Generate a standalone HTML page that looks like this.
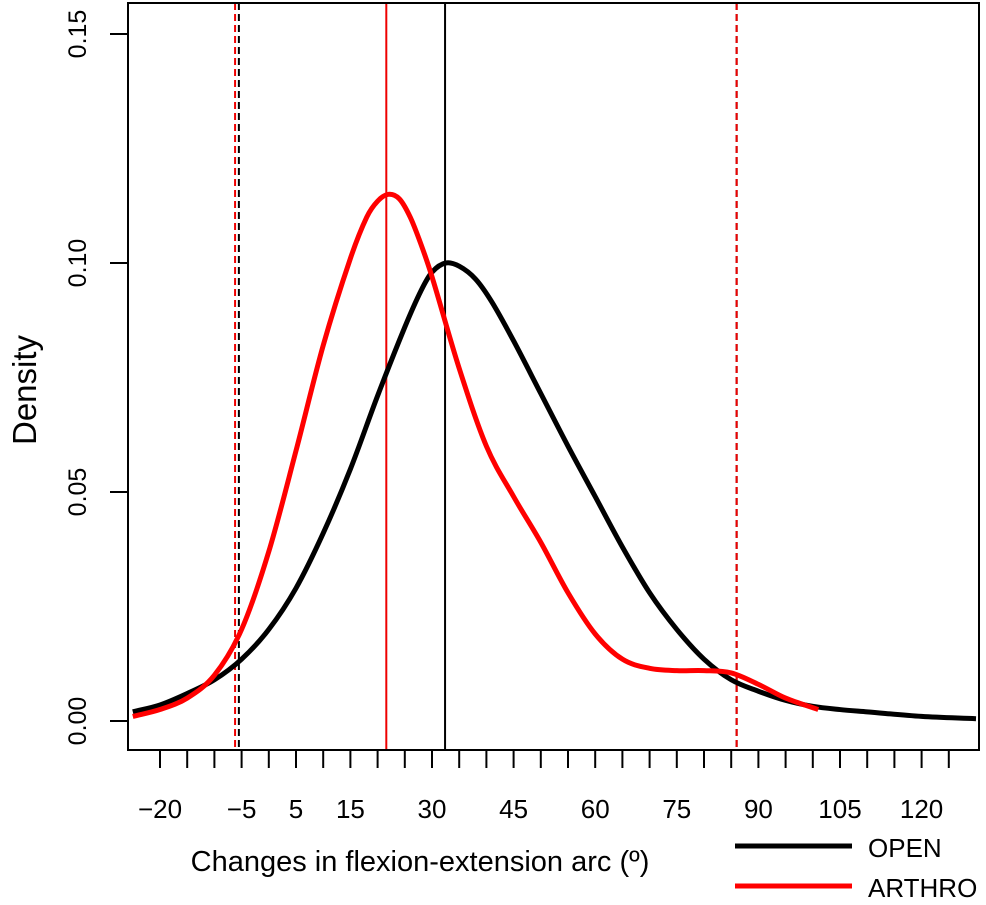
<!DOCTYPE html>
<html><head><meta charset="utf-8"><style>
body{margin:0;background:#fff;}
svg text{font-family:"Liberation Sans","Noto Sans CJK KR",sans-serif;}
</style></head><body>
<svg id="chart" width="986" height="900" xmlns="http://www.w3.org/2000/svg"></svg>
<script>
const xTicks=[-20,-15,-10,-5,0,5,10,15,20,25,30,35,40,45,50,55,60,65,70,75,80,85,90,95,100,105,110,115,120,125];
const xLabels=[-20,-5,5,15,30,45,60,75,90,105,120];
const yLabels=[0,0.05,0.10,0.15];
const openX=[-25,-20,-15,-10,-5,0,5,10,15,20,25,28,30,32.5,35,38,41,45,50,55,60,65,70,75,80,85,90,95,100,105,110,120,130];
const openY=[0.002,0.0035,0.006,0.009,0.0135,0.020,0.029,0.041,0.055,0.071,0.086,0.094,0.098,0.100,0.0993,0.0965,0.0915,0.083,0.0715,0.060,0.049,0.038,0.028,0.020,0.0135,0.009,0.0065,0.0045,0.0032,0.0025,0.002,0.001,0.0005];
const arthX=[-25,-20,-15,-10,-5,0,5,10,15,18,20,22,24,26,28,30,35,40,45,50,55,60,65,70,75,80,85,90,95,101];
const arthY=[0.001,0.0025,0.005,0.010,0.020,0.037,0.059,0.082,0.101,0.110,0.1135,0.115,0.114,0.110,0.104,0.097,0.077,0.060,0.049,0.039,0.028,0.019,0.0135,0.0115,0.011,0.011,0.0105,0.008,0.005,0.0025];
const openLines=[32.4,-5.5,86];
const arthLines=[21.6,-6.2,86];
const L=128,R=979,T=3,B=750;
const sx=v=>268.8+v*5.44;
const sy=v=>721-v*4580;
const svg=document.getElementById('chart');
const NS='http://www.w3.org/2000/svg';
function mk(tag,attrs,parent){const e=document.createElementNS(NS,tag);for(const k in attrs)e.setAttribute(k,attrs[k]);(parent||svg).appendChild(e);return e;}
function smooth(xs,ys){const p=xs.map((x,i)=>[sx(x),sy(ys[i])]);let d='M'+p[0][0]+','+p[0][1];
for(let i=0;i<p.length-1;i++){const p0=p[Math.max(0,i-1)],p1=p[i],p2=p[i+1],p3=p[Math.min(p.length-1,i+2)];
const h=p2[0]-p1[0];
const m1=(p2[1]-p0[1])/(p2[0]-p0[0]||1), m2=(p3[1]-p1[1])/(p3[0]-p1[0]||1);
d+=' C'+(p1[0]+h/3)+','+(p1[1]+m1*h/3)+' '+(p2[0]-h/3)+','+(p2[1]-m2*h/3)+' '+p2[0]+','+p2[1];}return d;}
const clip=mk('clipPath',{id:'pc'});mk('rect',{x:L,y:T,width:R-L,height:B-T},clip);
const g=mk('g',{'clip-path':'url(#pc)'});

let e;
e=mk('line',{x1:sx(openLines[0]),x2:sx(openLines[0]),y1:T,y2:B,stroke:'#000','stroke-width':2},g);

e=mk('line',{x1:sx(arthLines[0]),x2:sx(arthLines[0]),y1:T,y2:B,stroke:'#e00','stroke-width':2},g);

for(let i=1;i<3;i++){
e=mk('line',{x1:sx(openLines[i]),x2:sx(openLines[i]),y1:T,y2:B,stroke:'#000','stroke-width':2,'stroke-dasharray':'7,4'},g);

e=mk('line',{x1:sx(arthLines[i]),x2:sx(arthLines[i]),y1:T,y2:B,stroke:'#e00','stroke-width':2,'stroke-dasharray':'7,4'},g);
}
e=mk('path',{d:smooth(openX,openY),fill:'none',stroke:'#000','stroke-width':5},g);

e=mk('path',{d:smooth(arthX,arthY),fill:'none',stroke:'#f00','stroke-width':5},g);

e=mk('rect',{x:L,y:T,width:R-L,height:B-T,fill:'none',stroke:'#000','stroke-width':2});

xTicks.forEach(v=>{e=mk('line',{x1:sx(v),x2:sx(v),y1:B,y2:B+18,stroke:'#000','stroke-width':2});
});
xLabels.forEach(v=>{e=mk('text',{x:sx(v),y:818,'font-size':26,'text-anchor':'middle'});e.textContent=v<0?'\u2212'+(-v):v;
});
yLabels.forEach(v=>{e=mk('line',{x1:L-18,x2:L,y1:sy(v),y2:sy(v),stroke:'#000','stroke-width':2});

e=mk('text',{x:0,y:0,'font-size':25,'text-anchor':'middle',transform:'translate(86,'+sy(v)+') rotate(-90)'});e.textContent=v.toFixed(2);
});
e=mk('text',{x:0,y:0,'font-size':33,'text-anchor':'middle',transform:'translate(36,390) rotate(-90)'});e.textContent='Density';

e=mk('text',{x:420,y:871,'font-size':29,'text-anchor':'middle'});e.textContent='Changes in flexion-extension arc (º)';

e=mk('line',{x1:735,x2:852,y1:846,y2:846,stroke:'#000','stroke-width':5});

e=mk('text',{x:868,y:857,'font-size':26});e.textContent='OPEN';

e=mk('line',{x1:735,x2:852,y1:886,y2:886,stroke:'#f00','stroke-width':5});

e=mk('text',{x:868,y:897,'font-size':26});e.textContent='ARTHRO';

</script>
</body></html>
